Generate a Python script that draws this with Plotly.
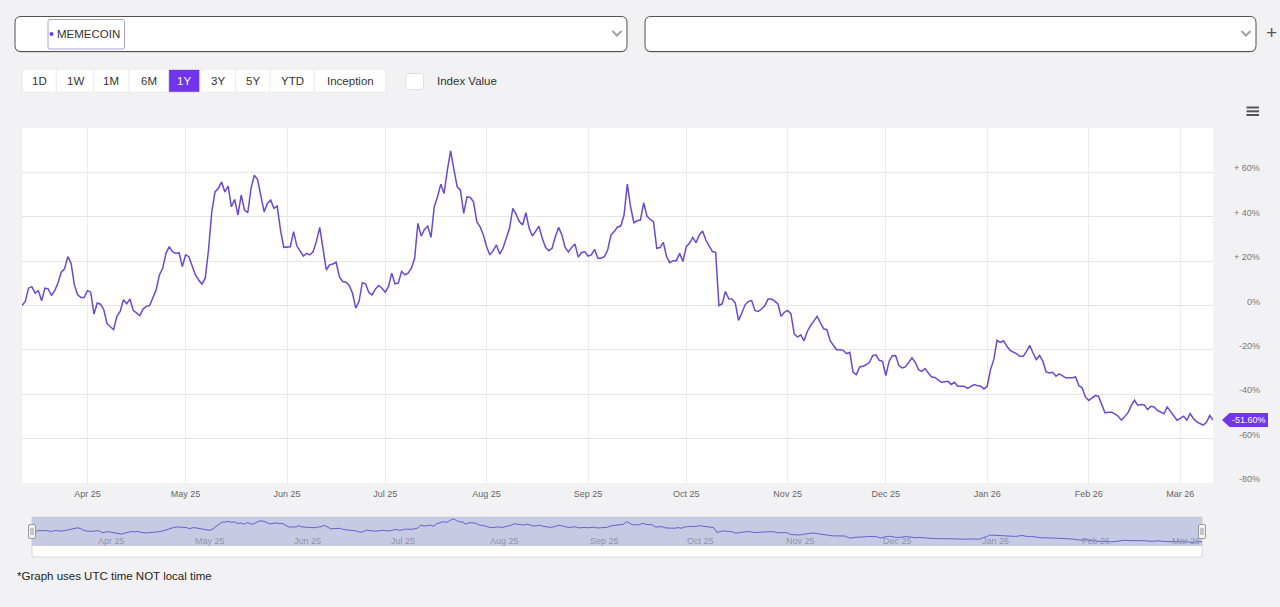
import plotly.graph_objects as go
import pandas as pd

# ---------------- data ----------------
SERIES_NAME = "MEMECOIN"
START_DATE = "2025-03-12"
# day offsets from START_DATE and % change since start
day_offsets = [
    0, 1, 2, 3, 4, 5, 6, 7, 8, 9, 10, 11, 12, 13, 14, 15, 16, 17, 18, 19,
    20, 21, 22, 23, 24, 25, 26, 27, 28, 29, 30, 31, 32, 33, 34, 36, 37, 38, 39, 41,
    42, 43, 44, 45, 46, 47, 48, 49, 50, 51, 52, 53, 54, 55, 56, 57, 58, 59, 60, 61,
    62, 63, 64, 65, 66, 67, 68, 69, 70, 71, 72, 73, 74, 75, 76, 77, 78, 79, 80, 82,
    83, 84, 86, 87, 88, 89, 90, 91, 92, 93, 94, 95, 96, 97, 98, 99, 100, 101, 102, 103,
    104, 105, 106, 107, 108, 109, 110, 111, 112, 113, 114, 115, 116, 117, 118, 119, 120, 121, 122, 123,
    124, 125, 126, 127, 128, 129, 130, 131, 132, 133, 134, 135, 136, 137, 138, 139, 140, 141, 142, 143,
    144, 145, 146, 147, 148, 149, 150, 151, 152, 153, 154, 155, 156, 157, 158, 159, 160, 161, 162, 163,
    164, 165, 166, 167, 168, 169, 170, 171, 172, 173, 174, 175, 176, 177, 178, 179, 180, 181, 182, 183,
    184, 185, 186, 187, 188, 189, 190, 191, 192, 193, 194, 195, 196, 197, 198, 199, 200, 201, 202, 203,
    204, 205, 206, 207, 208, 209, 210, 211, 212, 213, 214, 215, 216, 217, 218, 219, 220, 221, 222, 223,
    224, 225, 226, 227, 228, 229, 230, 231, 232, 233, 234, 235, 236, 237, 238, 239, 240, 241, 243, 244,
    245, 246, 247, 248, 249, 250, 251, 252, 253, 254, 255, 256, 257, 258, 259, 260, 261, 262, 263, 264,
    265, 266, 267, 268, 269, 270, 271, 272, 273, 274, 275, 276, 277, 278, 279, 280, 281, 282, 283, 284,
    285, 286, 287, 288, 289, 290, 291, 292, 293, 294, 295, 296, 297, 298, 299, 300, 301, 302, 303, 304,
    305, 306, 307, 308, 309, 310, 311, 312, 313, 314, 315, 316, 317, 318, 319, 320, 321, 322, 323, 324,
    325, 326, 328, 329, 330, 331, 332, 333, 334, 335, 336, 337, 338, 339, 340, 341, 342, 343, 344, 345,
    346, 347, 348, 349, 350, 351, 352, 353, 354, 355, 356, 357, 358, 359, 360, 361, 362, 363, 364,
]
pct_change = [
    0.0, 1.8, 7.8, 8.5, 5.6, 6.7, 2.1, 7.8, 7.5, 4.5, 6.7, 10.1, 15.0, 16.5, 22.0, 19.1, 9.3, 4.8, 3.6, 3.6,
    6.7, 6.0, -3.9, 1.1, 0.6, -1.9, -8.2, -9.6, -10.9, -4.9, -2.7, 2.6, 0.8, 2.9, -2.2, -4.5, -1.6, -0.4, 0.0, 7.1,
    13.8, 16.8, 23.5, 26.5, 24.3, 23.5, 23.8, 17.5, 22.8, 22.0, 18.3, 13.8, 11.5, 9.6, 12.3, 25.0, 42.2, 51.2, 52.8, 55.7,
    51.2, 53.8, 44.5, 47.8, 40.8, 49.8, 43.0, 41.8, 52.8, 58.7, 56.8, 49.8, 42.2, 46.0, 47.5, 43.8, 44.8, 34.0, 26.2, 26.5,
    33.3, 26.8, 22.3, 23.5, 22.8, 24.3, 29.0, 35.2, 25.0, 16.0, 18.3, 18.7, 19.5, 13.0, 10.8, 10.5, 9.0, 5.6, -1.2, 1.8,
    10.3, 9.8, 5.8, 4.8, 7.4, 9.0, 7.8, 6.0, 8.5, 14.6, 9.8, 10.1, 15.3, 13.8, 14.6, 16.8, 21.3, 37.0, 31.3, 34.3,
    35.8, 30.7, 44.5, 49.0, 54.7, 50.5, 61.0, 69.7, 61.3, 53.5, 52.0, 41.5, 49.0, 48.7, 46.7, 37.8, 35.5, 31.8, 26.5, 22.8,
    24.7, 27.3, 23.2, 25.8, 30.3, 34.8, 43.8, 41.2, 37.8, 36.3, 41.8, 34.8, 31.3, 33.3, 35.8, 30.3, 26.2, 24.7, 25.8, 31.0,
    35.2, 31.8, 26.2, 24.1, 26.2, 27.7, 21.8, 23.8, 24.3, 22.3, 22.8, 25.3, 21.3, 21.3, 22.0, 25.0, 31.8, 33.3, 35.4, 35.8,
    40.8, 54.7, 44.5, 37.3, 38.2, 38.5, 46.3, 40.3, 38.8, 37.8, 25.8, 26.1, 28.5, 22.0, 19.3, 20.2, 20.2, 23.5, 19.8, 26.5,
    28.0, 30.7, 28.3, 31.8, 33.6, 29.5, 26.8, 24.3, 24.0, -0.1, 0.8, 6.3, 3.0, 2.9, 1.1, -6.7, -3.4, 0.3, 1.8, 2.2,
    -2.2, -2.7, -1.6, -0.1, 2.9, 2.9, 2.1, 0.8, -4.9, -3.1, -2.2, -3.7, -12.7, -14.2, -13.2, -15.9, -11.7, -9.1, -4.9, -7.6,
    -10.5, -10.9, -15.9, -18.0, -19.9, -19.9, -20.2, -21.7, -21.1, -30.1, -31.1, -27.7, -27.4, -26.7, -25.6, -22.6, -22.2, -24.7, -25.2, -31.6,
    -25.2, -22.6, -22.5, -27.1, -28.1, -27.7, -25.6, -23.6, -25.6, -28.9, -29.7, -28.4, -30.4, -32.2, -32.4, -33.4, -34.6, -34.4, -34.2, -35.6,
    -34.6, -36.4, -36.4, -36.4, -37.4, -36.4, -35.6, -36.1, -36.4, -37.6, -36.4, -28.9, -24.4, -15.7, -16.6, -15.9, -18.4, -20.2, -20.9, -21.8,
    -22.9, -22.9, -20.7, -18.0, -21.4, -24.4, -22.5, -25.2, -29.9, -30.4, -30.1, -31.9, -30.8, -31.9, -32.6, -32.6, -32.6, -32.2, -36.1, -37.1,
    -41.2, -42.8, -40.6, -40.9, -44.6, -48.4, -48.1, -48.1, -48.8, -49.9, -51.7, -49.9, -48.4, -45.1, -42.7, -44.9, -44.6, -44.8, -46.9, -45.4,
    -45.7, -47.3, -48.1, -48.8, -45.7, -47.6, -49.9, -51.7, -50.9, -49.9, -51.7, -48.7, -50.9, -52.4, -53.2, -53.9, -52.6, -49.6, -51.6,
]
month_ticks = ["2025-04-01", "2025-05-01", "2025-06-01", "2025-07-01", "2025-08-01", "2025-09-01",
               "2025-10-01", "2025-11-01", "2025-12-01", "2026-01-01", "2026-02-01", "2026-03-01"]
month_labels = ["Apr 25", "May 25", "Jun 25", "Jul 25", "Aug 25", "Sep 25",
                "Oct 25", "Nov 25", "Dec 25", "Jan 26", "Feb 26", "Mar 26"]
y_ticks = [60, 40, 20, 0, -20, -40, -60, -80]
y_tick_labels = ["+ 60%", "+ 40%", "+ 20%", "0%", "-20%", "-40%", "-60%", "-80%"]
range_buttons = ["1D", "1W", "1M", "6M", "1Y", "3Y", "5Y", "YTD", "Inception"]
active_button = "1Y"
footer_text = "*Graph uses UTC time NOT local time"

# ---------------- styling ----------------
W, H = 1280, 607
PAGE_BG = "#f2f2f4"
PURPLE = "#6f34ec"
LINE = "#6a48d6"
NAV_LINE = "#5f62cf"
NAV_BAND = "#c6cbe3"
FONT = "Liberation Sans"
UI_SIZE = 11.5


def px(x):
    return x / W


def py(y):
    return 1 - y / H


def rrect(x0, y0, x1, y1, r):
    pts = [
        ("M", [(x0 + r, y0)]), ("L", [(x1 - r, y0)]), ("Q", [(x1, y0), (x1, y0 + r)]),
        ("L", [(x1, y1 - r)]), ("Q", [(x1, y1), (x1 - r, y1)]), ("L", [(x0 + r, y1)]),
        ("Q", [(x0, y1), (x0, y1 - r)]), ("L", [(x0, y0 + r)]), ("Q", [(x0, y0), (x0 + r, y0)]),
    ]
    s = ""
    for cmd, ps in pts:
        s += cmd + " " + " ".join(f"{px(a):.5f},{py(b):.5f}" for a, b in ps) + " "
    return s + "Z"


dates = pd.Timestamp(START_DATE) + pd.to_timedelta(day_offsets, unit="D")

fig = go.Figure()
fig.add_trace(go.Scatter(x=dates, y=pct_change, mode="lines", name=SERIES_NAME,
                         line=dict(color=LINE, width=1.5), xaxis="x", yaxis="y", hoverinfo="skip"))
fig.add_trace(go.Scatter(x=dates, y=pct_change, mode="lines", name=SERIES_NAME + " nav",
                         line=dict(color=NAV_LINE, width=1), xaxis="x2", yaxis="y2", hoverinfo="skip"))

shapes = []
annotations = []

# navigator band, outline and handles
shapes.append(dict(type="rect", xref="paper", yref="paper", x0=px(32), x1=px(1202), y0=py(557), y1=py(517),
                   fillcolor="white", line=dict(color="#d6d6d6", width=1), layer="below"))
shapes.append(dict(type="rect", xref="paper", yref="paper", x0=px(32), x1=px(1202), y0=py(546), y1=py(517),
                   fillcolor=NAV_BAND, line=dict(width=0), layer="below"))
for hx in (32, 1202):
    shapes.append(dict(type="path", xref="paper", yref="paper", path=rrect(hx - 3.5, 524.5, hx + 3.5, 538.5, 1.5),
                       fillcolor="#f4f4f4", line=dict(color="#999999", width=1)))
    for lx in (hx - 1, hx + 1):
        shapes.append(dict(type="line", xref="paper", yref="paper", x0=px(lx), x1=px(lx), y0=py(528), y1=py(535),
                           line=dict(color="#999999", width=1)))
for d, lab in zip(month_ticks, month_labels):
    annotations.append(dict(x=d, y=py(541), xref="x2", yref="paper", text=lab, showarrow=False,
                            xanchor="left", yanchor="middle", xshift=0,
                            font=dict(family=FONT, size=9, color="#8f93ab")))

# y tick labels on the right
for v, lab in zip(y_ticks, y_tick_labels):
    annotations.append(dict(x=px(1262), y=v, xref="paper", yref="y", text=lab, showarrow=False,
                            xanchor="right", yanchor="middle", yshift=4,
                            font=dict(family=FONT, size=9, color="#777777")))

# last value badge
last_v = pct_change[-1]
shapes.append(dict(type="path", xref="paper", yref="y", ysizemode="pixel", yanchor=last_v,
                   path=f"M {px(1222):.5f},0 L {px(1229.5):.5f},7 L {px(1268):.5f},7 L {px(1268):.5f},-7 L {px(1229.5):.5f},-7 Z",
                   fillcolor=PURPLE, line=dict(width=0)))
annotations.append(dict(x=px(1248.5), y=last_v, xref="paper", yref="y", text=f"{last_v:.2f}%",
                        showarrow=False, xanchor="center", yanchor="middle",
                        font=dict(family=FONT, size=9, color="white")))

# dropdowns
for (x0, x1) in ((15, 627), (645, 1256)):
    shapes.append(dict(type="path", xref="paper", yref="paper", path=rrect(x0, 17.5, x1, 52.5, 6),
                       fillcolor="#bdbdbd", line=dict(width=0)))
    shapes.append(dict(type="path", xref="paper", yref="paper", path=rrect(x0, 16.5, x1, 51.5, 6),
                       fillcolor="white", line=dict(color="#505050", width=1)))
    cx = x1 - 10
    shapes.append(dict(type="path", xref="paper", yref="paper",
                       path=f"M {px(cx - 4.5):.5f},{py(31):.5f} L {px(cx):.5f},{py(35.5):.5f} L {px(cx + 4.5):.5f},{py(31):.5f}",
                       line=dict(color="#a0a0a0", width=2)))
shapes.append(dict(type="path", xref="paper", yref="paper", path=rrect(48, 19.5, 124.5, 49, 2),
                   fillcolor="white", line=dict(color="#aaa2de", width=1)))
shapes.append(dict(type="circle", xref="paper", yref="paper", x0=px(49.5), x1=px(53.5), y0=py(36), y1=py(32),
                   fillcolor=PURPLE, line=dict(width=0)))
annotations.append(dict(x=px(55), y=py(34), xref="paper", yref="paper", text=SERIES_NAME, showarrow=False,
                        xanchor="left", yanchor="middle", font=dict(family=FONT, size=UI_SIZE, color="#333333")))
annotations.append(dict(x=px(1271), y=py(33), xref="paper", yref="paper", text="+", showarrow=False,
                        xanchor="center", yanchor="middle", font=dict(family=FONT, size=19, color="#555555")))

# range buttons
btn_edges = [22.4, 56.3, 93.9, 129, 168.6, 200, 235.5, 270.2, 314.3, 385.7]
for i, lab in enumerate(range_buttons):
    a, b = btn_edges[i], btn_edges[i + 1]
    active = lab == active_button
    shapes.append(dict(type="rect", xref="paper", yref="paper", x0=px(a), x1=px(b), y0=py(92.3), y1=py(69.3),
                       fillcolor=PURPLE if active else "white", line=dict(color="#ececec", width=1)))
    annotations.append(dict(x=px((a + b) / 2), y=py(81), xref="paper", yref="paper", text=lab, showarrow=False,
                            xanchor="center", yanchor="middle",
                            font=dict(family=FONT, size=UI_SIZE, color="white" if active else "#333333")))
shapes.append(dict(type="path", xref="paper", yref="paper", path=rrect(406, 73.5, 423.5, 89.5, 2),
                   fillcolor="white", line=dict(color="#e0e0e0", width=1)))
annotations.append(dict(x=px(435), y=py(81), xref="paper", yref="paper", text="Index Value", showarrow=False,
                        xanchor="left", yanchor="middle", font=dict(family=FONT, size=UI_SIZE, color="#333333")))

# hamburger menu
for hy in (107.5, 111.3, 115.0):
    shapes.append(dict(type="line", xref="paper", yref="paper", x0=px(1246.5), x1=px(1259), y0=py(hy), y1=py(hy),
                       line=dict(color="#555555", width=2)))

# footer
annotations.append(dict(x=px(15), y=py(576), xref="paper", yref="paper", text=footer_text, showarrow=False,
                        xanchor="left", yanchor="middle", font=dict(family=FONT, size=UI_SIZE, color="#222222")))

fig.update_layout(
    width=W, height=H,
    margin=dict(l=0, r=0, t=0, b=0),
    paper_bgcolor=PAGE_BG, plot_bgcolor="white",
    showlegend=False, hovermode=False,
    font=dict(family=FONT),
    xaxis=dict(domain=[px(22), px(1213)], range=[dates[0], dates[-1]], anchor="y",
               tickvals=month_ticks, ticktext=month_labels, showgrid=True, gridcolor="#ebebeb",
               ticks="", showline=False, zeroline=False, ticklabelstandoff=4,
               tickfont=dict(family=FONT, size=9, color="#666666"), fixedrange=True),
    yaxis=dict(domain=[py(483), py(128)], range=[-80, 80], anchor="x", side="right",
               tickvals=y_ticks, showticklabels=False, showgrid=True, gridcolor="#e6e6e6",
               zeroline=False, showline=False, fixedrange=True),
    xaxis2=dict(domain=[px(32), px(1202)], range=[dates[0], dates[-1]], anchor="y2",
                showticklabels=False, showgrid=False, zeroline=False, showline=False, fixedrange=True),
    yaxis2=dict(domain=[py(557), py(517)], range=[-131, 79], anchor="x2",
                showticklabels=False, showgrid=False, zeroline=False, showline=False, fixedrange=True),
    shapes=shapes,
    annotations=annotations,
)

fig.write_html(
    "out.html",
    config={"displayModeBar": False},
    post_script="document.body.style.margin='0';document.body.style.padding='0';"
                "document.body.style.overflow='hidden';"
                "document.body.style.background='" + PAGE_BG + "';",
)
